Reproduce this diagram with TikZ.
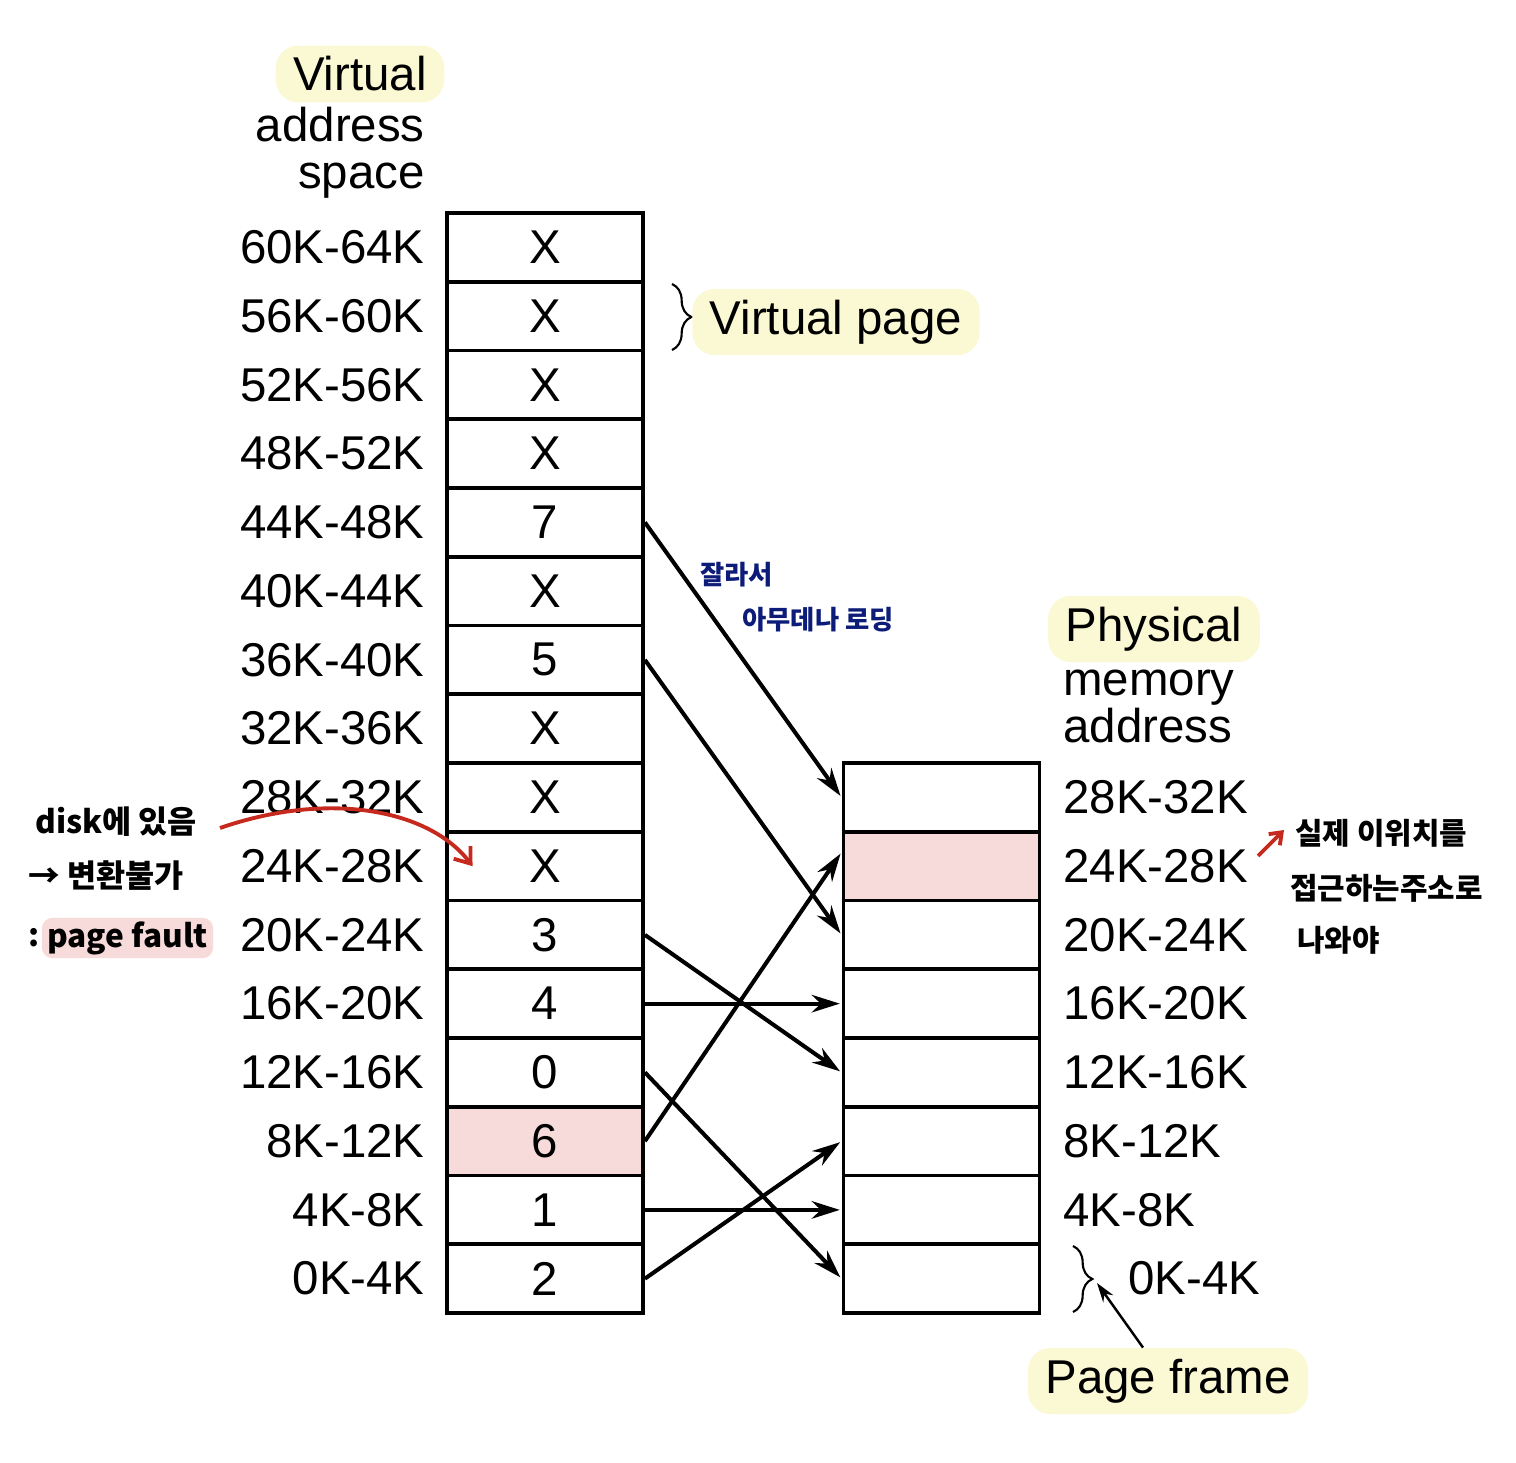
\documentclass[tikz,border=0pt]{standalone}
\usepackage{fontspec}
\setmainfont{Liberation Sans}
\newfontfamily\handfont{Noto Sans CJK KR}
\usepackage{tikz}
\usetikzlibrary{arrows.meta,positioning,decorations.pathreplacing}

\definecolor{hlyellow}{HTML}{FBF9D4}
\definecolor{hlpink}{HTML}{F7DADA}
\definecolor{inkred}{HTML}{C62A1F}
\definecolor{inknavy}{HTML}{0C1C78}

\tikzset{
  page/.style={draw=black, line width=2.2pt, minimum width=3.92cm, minimum height=1.375cm, inner sep=0pt},
  addr/.style={inner sep=0pt},
  hilite/.style={fill=hlyellow, rounded corners=0.45cm, inner xsep=0.35cm, inner ysep=0.22cm},
  map/.style={-{Stealth[length=16pt,width=10pt]}, line width=2.3pt, shorten >=1pt},
  bracegrp/.style={decorate, decoration={brace, amplitude=11pt}, line width=1.2pt},
  note/.style={font=\handfont\bfseries\fontsize{18}{21}\selectfont, inner sep=0pt, anchor=west},
  redink/.style={draw=inkred, line width=2.2pt, -{Straight Barb[length=8pt,width=12pt]}},
}

\begin{document}
\begin{tikzpicture}[x=0.02cm,y=-0.02cm,>=stealth,font=\fontsize{27}{31}\selectfont]
\useasboundingbox (0,0) rectangle (1516,1463);

% ---------- virtual address space ----------
\node[hilite] (vtitle) at (360,74) {Virtual};
\node[addr,anchor=base east] (vaddr) at (425,142) {address};
\node[addr,anchor=base east] (vspace) at (425,189) {space};

\foreach \i/\lbl/\m/\f in {15/60K-64K/X/white,14/56K-60K/X/white,13/52K-56K/X/white,12/48K-52K/X/white,
    11/44K-48K/7/white,10/40K-44K/X/white,9/36K-40K/5/white,8/32K-36K/X/white,
    7/28K-32K/X/white,6/24K-28K/X/white,5/20K-24K/3/white,4/16K-20K/4/white,
    3/12K-16K/0/white,2/8K-12K/6/hlpink,1/4K-8K/1/white,0/0K-4K/2/white}{
    \node[page,fill=\f] (vp\i) at (545,{247.4+(15-\i)*68.75}) {\m};
    \node[addr,anchor=east] (vl\i) at (425,{247.4+(15-\i)*68.75}) {\lbl};
}

\draw[bracegrp] (672,284) -- (672,350);
\node[hilite] (vpage) at (836,322) {Virtual page};

% ---------- physical memory ----------
\node[hilite] (ptitle) at (1154,629) {Physical};
\node[addr,anchor=base west] (pmem) at (1063,695) {memory};
\node[addr,anchor=base west] (paddr) at (1063,742) {address};

\foreach \i/\lbl/\lx/\f in {7/28K-32K/1063/white,6/24K-28K/1063/hlpink,5/20K-24K/1063/white,
    4/16K-20K/1063/white,3/12K-16K/1063/white,2/8K-12K/1063/white,1/4K-8K/1063/white,0/0K-4K/1128/white}{
    \node[page,fill=\f] (pf\i) at (941.5,{797.4+(7-\i)*68.75}) {};
    \node[addr,anchor=west] (pl\i) at (\lx,{797.4+(7-\i)*68.75}) {\lbl};
}

\draw[bracegrp] (1073,1246) -- (1073,1312);
\coordinate (pftip) at (1097,1283);
\node[hilite] (pframe) at (1168,1381) {Page frame};
\draw[-{Stealth[length=11pt,width=7pt]}, line width=1.4pt] ([xshift=-0.5cm]pframe.north) -- (pftip);

% ---------- mapping ----------
\foreach \v/\p in {11/7,9/5,5/3,4/4,3/0,1/1,0/2}
    \draw[map] (vp\v.east) -- (pf\p.west);
\draw[map] (vp2.east) -- ([yshift=0.28cm]pf6.west);

% ---------- notes ----------
\node[note,text=inknavy,font=\handfont\bfseries\fontsize{15}{18}\selectfont] (cut1) at (700,575) {잘라서};
\node[note,text=inknavy,font=\handfont\bfseries\fontsize{15}{18}\selectfont] (cut2) at (742,620) {아무데나 로딩};

\node[note] (disk) at (35,822) {disk에 있음};
\node[note] (conv) at (28,876) {→ 변환불가};
\node[note] (colon) at (28,938) {:};
\node[note,fill=hlpink,rounded corners=6pt,inner xsep=3pt,inner ysep=2pt,right=1pt of colon] (fault) {page fault};

\coordinate (faultstart) at (220,828);
\draw[redink] (faultstart) .. controls (330,790) and (430,810) .. ([xshift=-1.45cm]vp6.center);

\node[note,font=\handfont\bfseries\fontsize{17}{20}\selectfont] (real1) at (1295,833) {실제 이위치를};
\node[note,font=\handfont\bfseries\fontsize{17}{20}\selectfont] (real2) at (1290,888) {접근하는주소로};
\node[note,font=\handfont\bfseries\fontsize{17}{20}\selectfont] (real3) at (1297,940) {나와야};
\coordinate (realfrom) at (1258,856);
\coordinate (realto) at (1284,830);
\draw[redink,-{Straight Barb[length=6pt,width=9pt]}] (realfrom) -- (realto);

\end{tikzpicture}
\end{document}
